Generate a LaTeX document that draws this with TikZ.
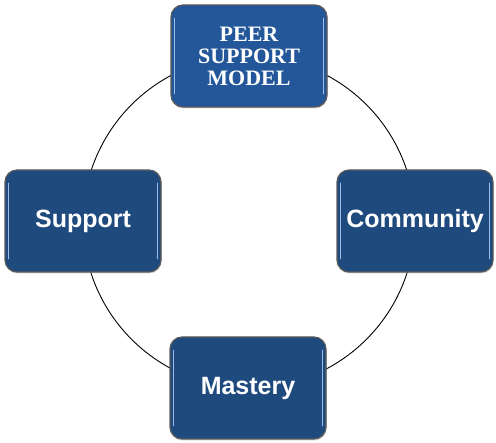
\documentclass[tikz,border=0pt]{standalone}
\usepackage{fontspec}
\setmainfont{Liberation Sans}
\newfontfamily\serifb{Liberation Serif}
\usetikzlibrary{shadows}
\definecolor{boxblue}{HTML}{1F4A7E}
\definecolor{topblue}{HTML}{235799}
\definecolor{hilite}{HTML}{9DBCE6}
\definecolor{edgegray}{HTML}{5A5A5A}
\begin{document}
\begin{tikzpicture}[x=1pt,y=-1pt]
\tikzset{
  card/.style={rounded corners=12pt, fill=boxblue, draw=edgegray, line width=1.2pt,
    minimum width=156pt, minimum height=102pt, text=white, inner sep=0pt,
    font=\bfseries\fontsize{25}{28}\selectfont,
    drop shadow={shadow xshift=0.5pt, shadow yshift=-1.5pt, opacity=0.35}},
  topcard/.style={card, fill=topblue, align=center,
    font=\serifb\bfseries\fontsize{22}{22}\selectfont},
  gloss/.style={hilite, line width=1.6pt, line cap=round},
  ring/.style={black, line width=0.9pt}
}
\useasboundingbox (0,0) rectangle (496,443);
\coordinate (c) at (249,222);
\draw[ring] (c) circle[radius=166pt];
\node[topcard] (top) at (249,56) {PEER\\SUPPORT\\MODEL};
\node[card] (left) at (83,221) {Support};
\node[card] (right) at (415,221) {Community};
\node[card] (bottom) at (248,388) {Mastery};
\foreach \n in {top,left,right,bottom}{
  \draw[gloss] ([xshift=4pt,yshift=-14pt]\n.north west) -- ([xshift=4pt,yshift=14pt]\n.south west);
  \draw[gloss] ([xshift=-4pt,yshift=-14pt]\n.north east) -- ([xshift=-4pt,yshift=14pt]\n.south east);
}
\end{tikzpicture}
\end{document}
